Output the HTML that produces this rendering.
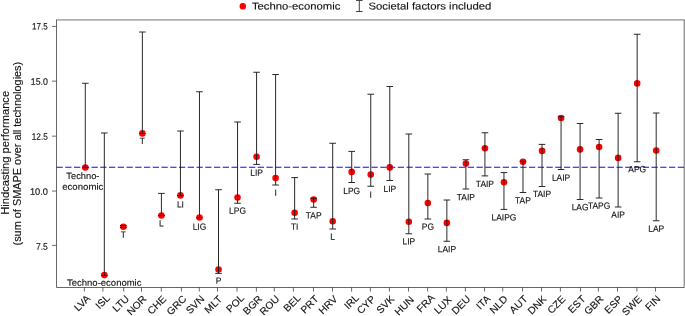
<!DOCTYPE html>
<html lang="en"><head><meta charset="utf-8"><title>Hindcasting performance</title>
<style>html,body{margin:0;padding:0;background:#fff}svg{display:block}text{font-family:"Liberation Sans",Arial,Helvetica,sans-serif;fill:#151515;stroke:#151515;stroke-width:0.14px}.s{stroke:#111;stroke-width:0.13px;fill:#111}</style></head><body>
<svg width="685" height="316" viewBox="0 0 685 316">
<rect width="685" height="316" fill="#fff"/>
<path d="M56.5 19.95V287.5H684.2V19.95" fill="none" stroke="#2c2c2c" stroke-width="0.72"/>
<path d="M56.1 19.95H684.6" fill="none" stroke="#3a3a3a" stroke-width="0.72"/>
<line x1="52" y1="26.45" x2="56.5" y2="26.45" stroke="#2c2c2c" stroke-width="0.7"/>
<text transform="translate(47.65,29.45) rotate(0.04)" class="s" font-size="9.3" text-anchor="end" textLength="15.55" lengthAdjust="spacingAndGlyphs">17.5</text>
<line x1="52" y1="81.15" x2="56.5" y2="81.15" stroke="#2c2c2c" stroke-width="0.7"/>
<text transform="translate(47.9,84.8) rotate(0.04)" class="s" font-size="9.3" text-anchor="end" textLength="17.1" lengthAdjust="spacingAndGlyphs">15.0</text>
<line x1="52" y1="136.15" x2="56.5" y2="136.15" stroke="#2c2c2c" stroke-width="0.7"/>
<text transform="translate(47.8,139.8) rotate(0.04)" class="s" font-size="9.3" text-anchor="end" textLength="16.0" lengthAdjust="spacingAndGlyphs">12.5</text>
<line x1="52" y1="191.05" x2="56.5" y2="191.05" stroke="#2c2c2c" stroke-width="0.7"/>
<text transform="translate(47.9,194.8) rotate(0.04)" class="s" font-size="9.3" text-anchor="end" textLength="18.0" lengthAdjust="spacingAndGlyphs">10.0</text>
<line x1="52" y1="245.40" x2="56.5" y2="245.40" stroke="#2c2c2c" stroke-width="0.7"/>
<text transform="translate(47.8,249.8) rotate(0.04)" class="s" font-size="9.3" text-anchor="end" textLength="11.9" lengthAdjust="spacingAndGlyphs">7.5</text>
<line x1="84.40" y1="287.5" x2="84.40" y2="291.6" stroke="#2c2c2c" stroke-width="0.7"/>
<text transform="translate(90.85,299.10) rotate(-45) scale(1.03,1)" font-size="10" text-anchor="end">LVA</text>
<line x1="102.90" y1="287.5" x2="102.90" y2="291.6" stroke="#2c2c2c" stroke-width="0.7"/>
<text transform="translate(110.50,298.60) rotate(-45) scale(1.03,1)" font-size="10" text-anchor="end">ISL</text>
<line x1="123.70" y1="287.5" x2="123.70" y2="291.6" stroke="#2c2c2c" stroke-width="0.7"/>
<text transform="translate(129.70,299.40) rotate(-45) scale(1.03,1)" font-size="10" text-anchor="end">LTU</text>
<line x1="141.50" y1="287.5" x2="141.50" y2="291.6" stroke="#2c2c2c" stroke-width="0.7"/>
<text transform="translate(147.10,299.60) rotate(-45) scale(1.03,1)" font-size="10" text-anchor="end">NOR</text>
<line x1="161.30" y1="287.5" x2="161.30" y2="291.6" stroke="#2c2c2c" stroke-width="0.7"/>
<text transform="translate(166.90,299.60) rotate(-45) scale(1.03,1)" font-size="10" text-anchor="end">CHE</text>
<line x1="181.40" y1="287.5" x2="181.40" y2="291.6" stroke="#2c2c2c" stroke-width="0.7"/>
<text transform="translate(187.00,299.60) rotate(-45) scale(1.03,1)" font-size="10" text-anchor="end">GRC</text>
<line x1="199.30" y1="287.5" x2="199.30" y2="291.6" stroke="#2c2c2c" stroke-width="0.7"/>
<text transform="translate(204.90,299.60) rotate(-45) scale(1.03,1)" font-size="10" text-anchor="end">SVN</text>
<line x1="217.50" y1="287.5" x2="217.50" y2="291.6" stroke="#2c2c2c" stroke-width="0.7"/>
<text transform="translate(222.60,299.90) rotate(-45) scale(1.03,1)" font-size="10" text-anchor="end">MLT</text>
<line x1="237.00" y1="287.5" x2="237.00" y2="291.6" stroke="#2c2c2c" stroke-width="0.7"/>
<text transform="translate(244.90,298.50) rotate(-45) scale(1.03,1)" font-size="10" text-anchor="end">POL</text>
<line x1="256.40" y1="287.5" x2="256.40" y2="291.6" stroke="#2c2c2c" stroke-width="0.7"/>
<text transform="translate(262.80,299.40) rotate(-45) scale(1.03,1)" font-size="10" text-anchor="end">BGR</text>
<line x1="274.30" y1="287.5" x2="274.30" y2="291.6" stroke="#2c2c2c" stroke-width="0.7"/>
<text transform="translate(279.90,299.60) rotate(-45) scale(1.03,1)" font-size="10" text-anchor="end">ROU</text>
<line x1="293.40" y1="287.5" x2="293.40" y2="291.6" stroke="#2c2c2c" stroke-width="0.7"/>
<text transform="translate(301.30,298.50) rotate(-45) scale(1.03,1)" font-size="10" text-anchor="end">BEL</text>
<line x1="313.50" y1="287.5" x2="313.50" y2="291.6" stroke="#2c2c2c" stroke-width="0.7"/>
<text transform="translate(319.10,299.60) rotate(-45) scale(1.03,1)" font-size="10" text-anchor="end">PRT</text>
<line x1="332.50" y1="287.5" x2="332.50" y2="291.6" stroke="#2c2c2c" stroke-width="0.7"/>
<text transform="translate(338.10,299.60) rotate(-45) scale(1.03,1)" font-size="10" text-anchor="end">HRV</text>
<line x1="351.60" y1="287.5" x2="351.60" y2="291.6" stroke="#2c2c2c" stroke-width="0.7"/>
<text transform="translate(359.50,298.50) rotate(-45) scale(1.03,1)" font-size="10" text-anchor="end">IRL</text>
<line x1="370.40" y1="287.5" x2="370.40" y2="291.6" stroke="#2c2c2c" stroke-width="0.7"/>
<text transform="translate(376.00,299.60) rotate(-45) scale(1.03,1)" font-size="10" text-anchor="end">CYP</text>
<line x1="389.40" y1="287.5" x2="389.40" y2="291.6" stroke="#2c2c2c" stroke-width="0.7"/>
<text transform="translate(395.00,299.60) rotate(-45) scale(1.03,1)" font-size="10" text-anchor="end">SVK</text>
<line x1="408.50" y1="287.5" x2="408.50" y2="291.6" stroke="#2c2c2c" stroke-width="0.7"/>
<text transform="translate(414.40,300.20) rotate(-45) scale(1.03,1)" font-size="10" text-anchor="end">HUN</text>
<line x1="427.60" y1="287.5" x2="427.60" y2="291.6" stroke="#2c2c2c" stroke-width="0.7"/>
<text transform="translate(435.30,298.50) rotate(-45) scale(1.03,1)" font-size="10" text-anchor="end">FRA</text>
<line x1="446.40" y1="287.5" x2="446.40" y2="291.6" stroke="#2c2c2c" stroke-width="0.7"/>
<text transform="translate(452.30,300.30) rotate(-45) scale(1.03,1)" font-size="10" text-anchor="end">LUX</text>
<line x1="465.40" y1="287.5" x2="465.40" y2="291.6" stroke="#2c2c2c" stroke-width="0.7"/>
<text transform="translate(471.00,299.60) rotate(-45) scale(1.03,1)" font-size="10" text-anchor="end">DEU</text>
<line x1="484.50" y1="287.5" x2="484.50" y2="291.6" stroke="#2c2c2c" stroke-width="0.7"/>
<text transform="translate(491.10,299.30) rotate(-45) scale(1.03,1)" font-size="10" text-anchor="end">ITA</text>
<line x1="502.70" y1="287.5" x2="502.70" y2="291.6" stroke="#2c2c2c" stroke-width="0.7"/>
<text transform="translate(508.30,299.60) rotate(-45) scale(1.03,1)" font-size="10" text-anchor="end">NLD</text>
<line x1="522.50" y1="287.5" x2="522.50" y2="291.6" stroke="#2c2c2c" stroke-width="0.7"/>
<text transform="translate(528.10,299.60) rotate(-45) scale(1.03,1)" font-size="10" text-anchor="end">AUT</text>
<line x1="541.55" y1="287.5" x2="541.55" y2="291.6" stroke="#2c2c2c" stroke-width="0.7"/>
<text transform="translate(547.15,299.60) rotate(-45) scale(1.03,1)" font-size="10" text-anchor="end">DNK</text>
<line x1="560.40" y1="287.5" x2="560.40" y2="291.6" stroke="#2c2c2c" stroke-width="0.7"/>
<text transform="translate(566.00,299.60) rotate(-45) scale(1.03,1)" font-size="10" text-anchor="end">CZE</text>
<line x1="580.50" y1="287.5" x2="580.50" y2="291.6" stroke="#2c2c2c" stroke-width="0.7"/>
<text transform="translate(586.10,299.60) rotate(-45) scale(1.03,1)" font-size="10" text-anchor="end">EST</text>
<line x1="598.40" y1="287.5" x2="598.40" y2="291.6" stroke="#2c2c2c" stroke-width="0.7"/>
<text transform="translate(604.00,299.60) rotate(-45) scale(1.03,1)" font-size="10" text-anchor="end">GBR</text>
<line x1="617.50" y1="287.5" x2="617.50" y2="291.6" stroke="#2c2c2c" stroke-width="0.7"/>
<text transform="translate(623.10,299.60) rotate(-45) scale(1.03,1)" font-size="10" text-anchor="end">ESP</text>
<line x1="636.90" y1="287.5" x2="636.90" y2="291.6" stroke="#2c2c2c" stroke-width="0.7"/>
<text transform="translate(642.50,299.60) rotate(-45) scale(1.03,1)" font-size="10" text-anchor="end">SWE</text>
<line x1="655.50" y1="287.5" x2="655.50" y2="291.6" stroke="#2c2c2c" stroke-width="0.7"/>
<text transform="translate(661.10,299.60) rotate(-45) scale(1.03,1)" font-size="10" text-anchor="end">FIN</text>
<circle cx="85.30" cy="167.50" r="3.3" fill="#ff0000"/>
<circle cx="104.33" cy="275.10" r="3.3" fill="#ff0000"/>
<circle cx="123.36" cy="226.75" r="3.3" fill="#ff0000"/>
<circle cx="142.39" cy="133.40" r="3.3" fill="#ff0000"/>
<circle cx="161.42" cy="215.50" r="3.3" fill="#ff0000"/>
<circle cx="180.45" cy="195.40" r="3.3" fill="#ff0000"/>
<circle cx="199.48" cy="217.50" r="3.3" fill="#ff0000"/>
<circle cx="218.51" cy="269.60" r="3.3" fill="#ff0000"/>
<circle cx="237.54" cy="197.50" r="3.3" fill="#ff0000"/>
<circle cx="256.57" cy="156.75" r="3.3" fill="#ff0000"/>
<circle cx="275.60" cy="178.00" r="3.3" fill="#ff0000"/>
<circle cx="294.63" cy="212.75" r="3.3" fill="#ff0000"/>
<circle cx="313.66" cy="199.50" r="3.3" fill="#ff0000"/>
<circle cx="332.69" cy="221.25" r="3.3" fill="#ff0000"/>
<circle cx="351.72" cy="171.90" r="3.3" fill="#ff0000"/>
<circle cx="370.75" cy="174.60" r="3.3" fill="#ff0000"/>
<circle cx="389.78" cy="167.40" r="3.3" fill="#ff0000"/>
<circle cx="408.81" cy="221.75" r="3.3" fill="#ff0000"/>
<circle cx="427.84" cy="203.00" r="3.3" fill="#ff0000"/>
<circle cx="446.87" cy="222.90" r="3.3" fill="#ff0000"/>
<circle cx="465.90" cy="163.60" r="3.3" fill="#ff0000"/>
<circle cx="484.93" cy="148.25" r="3.3" fill="#ff0000"/>
<circle cx="503.96" cy="182.25" r="3.3" fill="#ff0000"/>
<circle cx="522.99" cy="161.75" r="3.3" fill="#ff0000"/>
<circle cx="542.02" cy="150.90" r="3.3" fill="#ff0000"/>
<circle cx="561.05" cy="118.00" r="3.3" fill="#ff0000"/>
<circle cx="580.08" cy="149.40" r="3.3" fill="#ff0000"/>
<circle cx="599.11" cy="147.00" r="3.3" fill="#ff0000"/>
<circle cx="618.14" cy="157.90" r="3.3" fill="#ff0000"/>
<circle cx="637.17" cy="83.40" r="3.3" fill="#ff0000"/>
<circle cx="656.20" cy="150.50" r="3.3" fill="#ff0000"/>
<line x1="56.5" y1="167.3" x2="684.2" y2="167.3" stroke="#0a0aff" stroke-width="1.1" stroke-dasharray="6.25 2.5"/>
<path d="M85.30 83.25V167.50M82.00 83.25h6.6M82.00 167.50h6.6" stroke="#1f1f1f" stroke-width="0.95" fill="none"/>
<path d="M104.33 133.00V275.50M101.03 133.00h6.6M101.03 275.50h6.6" stroke="#1f1f1f" stroke-width="0.95" fill="none"/>
<path d="M123.36 225.50V227.50M120.06 225.50h6.6M120.06 227.50h6.6" stroke="#1f1f1f" stroke-width="0.95" fill="none"/>
<text transform="translate(123.36,237.75) rotate(0.04) scale(0.93,1)" class="s" font-size="9.1" text-anchor="middle">T</text>
<path d="M142.39 32.00V133.50M139.09 32.00h6.6M139.09 133.50h6.6" stroke="#1f1f1f" stroke-width="0.95" fill="none"/>
<text transform="translate(142.39,144.10) rotate(0.04) scale(0.93,1)" class="s" font-size="9.1" text-anchor="middle">T</text>
<path d="M161.42 193.40V215.60M158.12 193.40h6.6M158.12 215.60h6.6" stroke="#1f1f1f" stroke-width="0.95" fill="none"/>
<text transform="translate(161.42,226.60) rotate(0.04) scale(0.93,1)" class="s" font-size="9.1" text-anchor="middle">L</text>
<path d="M180.45 131.00V195.60M177.15 131.00h6.6M177.15 195.60h6.6" stroke="#1f1f1f" stroke-width="0.95" fill="none"/>
<text transform="translate(180.45,207.60) rotate(0.04) scale(0.93,1)" class="s" font-size="9.1" text-anchor="middle">LI</text>
<path d="M199.48 91.75V217.70M196.18 91.75h6.6M196.18 217.70h6.6" stroke="#1f1f1f" stroke-width="0.95" fill="none"/>
<text transform="translate(199.48,229.80) rotate(0.04) scale(0.93,1)" class="s" font-size="9.1" text-anchor="middle">LIG</text>
<path d="M218.51 189.75V273.40M215.21 189.75h6.6M215.21 273.40h6.6" stroke="#1f1f1f" stroke-width="0.95" fill="none"/>
<text transform="translate(218.51,283.70) rotate(0.04) scale(0.93,1)" class="s" font-size="9.1" text-anchor="middle">P</text>
<path d="M237.54 122.00V203.25M234.24 122.00h6.6M234.24 203.25h6.6" stroke="#1f1f1f" stroke-width="0.95" fill="none"/>
<text transform="translate(237.54,213.80) rotate(0.04) scale(0.93,1)" class="s" font-size="9.1" text-anchor="middle">LPG</text>
<path d="M256.57 72.25V164.40M253.27 72.25h6.6M253.27 164.40h6.6" stroke="#1f1f1f" stroke-width="0.95" fill="none"/>
<text transform="translate(256.57,175.80) rotate(0.04) scale(0.93,1)" class="s" font-size="9.1" text-anchor="middle">LIP</text>
<path d="M275.60 74.50V185.00M272.30 74.50h6.6M272.30 185.00h6.6" stroke="#1f1f1f" stroke-width="0.95" fill="none"/>
<text transform="translate(275.60,195.80) rotate(0.04) scale(0.93,1)" class="s" font-size="9.1" text-anchor="middle">I</text>
<path d="M294.63 177.60V219.00M291.33 177.60h6.6M291.33 219.00h6.6" stroke="#1f1f1f" stroke-width="0.95" fill="none"/>
<text transform="translate(294.63,229.70) rotate(0.04) scale(0.93,1)" class="s" font-size="9.1" text-anchor="middle">TI</text>
<path d="M313.66 198.25V207.25M310.36 198.25h6.6M310.36 207.25h6.6" stroke="#1f1f1f" stroke-width="0.95" fill="none"/>
<text transform="translate(313.66,218.40) rotate(0.04) scale(0.93,1)" class="s" font-size="9.1" text-anchor="middle">TAP</text>
<path d="M332.69 143.25V229.00M329.39 143.25h6.6M329.39 229.00h6.6" stroke="#1f1f1f" stroke-width="0.95" fill="none"/>
<text transform="translate(332.69,239.80) rotate(0.04) scale(0.93,1)" class="s" font-size="9.1" text-anchor="middle">L</text>
<path d="M351.72 151.40V182.50M348.42 151.40h6.6M348.42 182.50h6.6" stroke="#1f1f1f" stroke-width="0.95" fill="none"/>
<text transform="translate(351.72,194.00) rotate(0.04) scale(0.93,1)" class="s" font-size="9.1" text-anchor="middle">LPG</text>
<path d="M370.75 94.25V186.25M367.45 94.25h6.6M367.45 186.25h6.6" stroke="#1f1f1f" stroke-width="0.95" fill="none"/>
<text transform="translate(370.75,197.80) rotate(0.04) scale(0.93,1)" class="s" font-size="9.1" text-anchor="middle">I</text>
<path d="M389.78 86.50V180.50M386.48 86.50h6.6M386.48 180.50h6.6" stroke="#1f1f1f" stroke-width="0.95" fill="none"/>
<text transform="translate(389.78,192.00) rotate(0.04) scale(0.93,1)" class="s" font-size="9.1" text-anchor="middle">LIP</text>
<path d="M408.81 134.00V233.75M405.51 134.00h6.6M405.51 233.75h6.6" stroke="#1f1f1f" stroke-width="0.95" fill="none"/>
<text transform="translate(408.81,244.50) rotate(0.04) scale(0.93,1)" class="s" font-size="9.1" text-anchor="middle">LIP</text>
<path d="M427.84 174.00V219.00M424.54 174.00h6.6M424.54 219.00h6.6" stroke="#1f1f1f" stroke-width="0.95" fill="none"/>
<text transform="translate(427.84,229.80) rotate(0.04) scale(0.93,1)" class="s" font-size="9.1" text-anchor="middle">PG</text>
<path d="M446.87 200.00V241.25M443.57 200.00h6.6M443.57 241.25h6.6" stroke="#1f1f1f" stroke-width="0.95" fill="none"/>
<text transform="translate(446.87,252.20) rotate(0.04) scale(0.93,1)" class="s" font-size="9.1" text-anchor="middle">LAIP</text>
<path d="M465.90 159.75V189.00M462.60 159.75h6.6M462.60 189.00h6.6" stroke="#1f1f1f" stroke-width="0.95" fill="none"/>
<text transform="translate(465.90,200.30) rotate(0.04) scale(0.93,1)" class="s" font-size="9.1" text-anchor="middle">TAIP</text>
<path d="M484.93 132.75V175.90M481.63 132.75h6.6M481.63 175.90h6.6" stroke="#1f1f1f" stroke-width="0.95" fill="none"/>
<text transform="translate(484.93,187.00) rotate(0.04) scale(0.93,1)" class="s" font-size="9.1" text-anchor="middle">TAIP</text>
<path d="M503.96 172.60V209.40M500.66 172.60h6.6M500.66 209.40h6.6" stroke="#1f1f1f" stroke-width="0.95" fill="none"/>
<text transform="translate(503.96,220.40) rotate(0.04) scale(0.93,1)" class="s" font-size="9.1" text-anchor="middle">LAIPG</text>
<path d="M522.99 161.30V192.50M519.69 161.30h6.6M519.69 192.50h6.6" stroke="#1f1f1f" stroke-width="0.95" fill="none"/>
<text transform="translate(522.99,203.50) rotate(0.04) scale(0.93,1)" class="s" font-size="9.1" text-anchor="middle">TAP</text>
<path d="M542.02 144.40V186.50M538.72 144.40h6.6M538.72 186.50h6.6" stroke="#1f1f1f" stroke-width="0.95" fill="none"/>
<text transform="translate(542.02,197.00) rotate(0.04) scale(0.93,1)" class="s" font-size="9.1" text-anchor="middle">TAIP</text>
<path d="M561.05 116.75V169.50M557.75 116.75h6.6M557.75 169.50h6.6" stroke="#1f1f1f" stroke-width="0.95" fill="none"/>
<text transform="translate(561.05,180.75) rotate(0.04) scale(0.93,1)" class="s" font-size="9.1" text-anchor="middle">LAIP</text>
<path d="M580.08 123.50V199.50M576.78 123.50h6.6M576.78 199.50h6.6" stroke="#1f1f1f" stroke-width="0.95" fill="none"/>
<text transform="translate(580.08,210.20) rotate(0.04) scale(0.93,1)" class="s" font-size="9.1" text-anchor="middle">LAG</text>
<path d="M599.11 139.50V198.00M595.81 139.50h6.6M595.81 198.00h6.6" stroke="#1f1f1f" stroke-width="0.95" fill="none"/>
<text transform="translate(599.11,208.70) rotate(0.04) scale(0.93,1)" class="s" font-size="9.1" text-anchor="middle">TAPG</text>
<path d="M618.14 113.25V207.00M614.84 113.25h6.6M614.84 207.00h6.6" stroke="#1f1f1f" stroke-width="0.95" fill="none"/>
<text transform="translate(618.14,217.80) rotate(0.04) scale(0.93,1)" class="s" font-size="9.1" text-anchor="middle">AIP</text>
<path d="M637.17 34.25V161.75M633.87 34.25h6.6M633.87 161.75h6.6" stroke="#1f1f1f" stroke-width="0.95" fill="none"/>
<text transform="translate(637.17,172.20) rotate(0.04) scale(0.93,1)" class="s" font-size="9.1" text-anchor="middle">APG</text>
<path d="M656.20 113.00V220.75M652.90 113.00h6.6M652.90 220.75h6.6" stroke="#1f1f1f" stroke-width="0.95" fill="none"/>
<text transform="translate(656.20,231.70) rotate(0.04) scale(0.93,1)" class="s" font-size="9.1" text-anchor="middle">LAP</text>
<text transform="translate(82.85,179) rotate(0.04)" class="s" font-size="9.2" text-anchor="middle" textLength="33.1" lengthAdjust="spacingAndGlyphs">Techno-</text>
<text transform="translate(82.75,189.8) rotate(0.04)" class="s" font-size="9.2" text-anchor="middle" textLength="41.2" lengthAdjust="spacingAndGlyphs">economic</text>
<text transform="translate(104.25,285.8) rotate(0.04)" class="s" font-size="9.2" text-anchor="middle" textLength="74.5" lengthAdjust="spacingAndGlyphs">Techno-economic</text>
<circle cx="242.8" cy="6.2" r="3.2" fill="#ff0000"/>
<text transform="translate(251.9,9.5) rotate(0.04)" font-size="10" textLength="88.5" lengthAdjust="spacingAndGlyphs">Techno-economic</text>
<path d="M359.3 0.45V11.5M356.05 0.45h6.5M356.05 11.5h6.5" stroke="#1f1f1f" stroke-width="0.85" fill="none"/>
<text transform="translate(368.4,9.5) rotate(0.04)" font-size="10" textLength="123" lengthAdjust="spacingAndGlyphs">Societal factors included</text>
<text transform="translate(9.2,152.8) rotate(-90)" font-size="10" text-anchor="middle" textLength="123.8" lengthAdjust="spacingAndGlyphs">Hindcasting performance</text>
<text transform="translate(21.45,153.65) rotate(-90)" font-size="10" text-anchor="middle" textLength="183.7" lengthAdjust="spacingAndGlyphs">(sum of SMAPE over all technologies)</text>
</svg></body></html>
